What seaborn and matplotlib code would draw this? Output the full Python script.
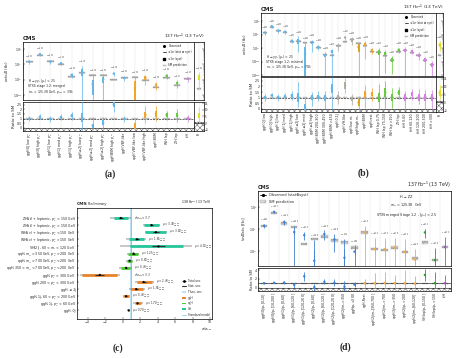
import numpy as np
import pandas as pd
import matplotlib
matplotlib.use("Agg")
import matplotlib.pyplot as plt
import seaborn as sns
from matplotlib.patches import Rectangle, Patch
from matplotlib.lines import Line2D

# ---------------- data : panel (a) ----------------
a_labels = ["ggH 0J low $p_T^H$", "ggH 0J high $p_T^H$", "ggH 1J low $p_T^H$", "ggH 1J med $p_T^H$",
            "ggH 1J high $p_T^H$", "ggH ≥2J low $p_T^H$", "ggH ≥2J med $p_T^H$", "ggH ≥2J high $p_T^H$",
            "ggH BSM high $p_T^H$", "ggH VBF-like", "qqH VBF-like low", "qqH VBF-like high",
            "qqH BSM", "WH lep", "ZH lep", "ttH", "tH"]
a_sm = [15, 39, 16, 10.4, 1.6, 2.9, 2.0, 1.9, 1.0, 1.35, 1.4, 0.93, 0.31, 1.3, 0.44, 1.15, 0.25]
a_mu = [1.0, 1.2, 0.95, 1.15, 1.3, 1.1, 0.25, 0.55, 2.5, 0.95, 0.2, 1.4, 1.5, 1.4, 1.35, 1.0, 6.0]
a_up = [0.25, 0.25, 0.3, 0.3, 0.45, 1.8, 0.9, 0.6, 0.8, 0.35, 0.9, 0.9, 0.8, 0.45, 0.7, 0.35, 6.0]
a_dn = [0.25, 0.25, 0.3, 0.3, 0.45, 1.8, 0.5, 0.55, 0.8, 0.35, 0.45, 0.9, 0.8, 0.6, 0.7, 0.35, 5.0]
a_sy = [0.08, 0.08, 0.1, 0.1, 0.15, 0.5, 0.2, 0.25, 0.3, 0.1, 0.35, 0.35, 0.3, 0.2, 0.2, 0.12, 2.0]
a_proc = ["ggH"] * 10 + ["qqH"] * 3 + ["VH"] * 2 + ["ttH", "tH"]

# ---------------- data : panel (b) ----------------
b_labels = ["ggH 0J low", "ggH 0J high", "ggH 1J low", "ggH 1J med", "ggH 1J high",
            "ggH ≥2J low", "ggH ≥2J med", "ggH ≥2J high", "ggH BSM 200-300", "ggH BSM 300-450",
            "ggH BSM >450", "qqH 0-1J", "qqH VH-like", "qqH low $m_{jj}$", "qqH high $m_{jj}$",
            "qqH BSM", "qqH rest", "WH lep 0-75", "WH lep 75-150", "WH lep >150", "ZH lep",
            "ttH 0-60", "ttH 60-120", "ttH 120-200", "ttH 200-300", "ttH >300", "tH"]
b_sm = [14, 35, 20, 14.5, 2.9, 3.2, 2.5, 2.7, 1.1, 0.32, 0.3, 1.5, 2.9, 4.7, 2.2, 1.5, 0.55,
        0.5, 0.28, 0.13, 0.52, 0.7, 0.46, 0.3, 0.13, 0.06, 0.3]
b_mu = [1.0, 1.2, 1.0, 1.1, 1.2, 1.0, 0.15, 1.0, 1.1, 0.95, 1.85, 1.0, 2.1, 0.85, 0.55, 1.3, 1.3,
        1.0, 1.45, 1.0, 1.45, 1.0, 1.3, 1.0, 1.0, 1.0, 6.0]
b_up = [0.3, 0.25, 0.3, 0.3, 0.4, 1.4, 0.8, 0.5, 0.45, 0.6, 1.0, 0.6, 0.7, 0.5, 0.6, 0.8, 0.6,
        1.2, 1.0, 0.9, 0.5, 0.6, 0.5, 0.8, 0.7, 0.7, 5.0]
b_dn = [0.3, 0.25, 0.3, 0.3, 0.4, 0.85, 0.6, 0.8, 0.45, 1.0, 1.9, 0.6, 0.7, 0.5, 0.9, 1.2, 0.6,
        1.1, 1.4, 0.9, 0.6, 1.0, 0.5, 0.6, 1.0, 1.0, 4.0]
b_sy = [0.1, 0.08, 0.1, 0.1, 0.15, 0.4, 0.3, 0.2, 0.15, 0.25, 0.4, 0.2, 0.3, 0.2, 0.3, 0.3, 0.2,
        0.4, 0.4, 0.3, 0.2, 0.3, 0.2, 0.3, 0.3, 0.3, 2.0]
b_proc = ["ggH"] * 11 + ["qqHg"] * 3 + ["qqHy"] + ["qqH"] * 2 + ["VH"] * 4 + ["ttH"] * 5 + ["tH"]

# ---------------- data : panel (c) ----------------
c_labels = [r"ZH($\ell\ell$) + leptonic, $p_T^V$ < 150 GeV", r"ZH($\ell\ell$) + leptonic, $p_T^V$ > 150 GeV",
            r"WH($\ell\nu$) + leptonic, $p_T^V$ < 150 GeV", r"WH($\ell\nu$) + leptonic, $p_T^V$ > 150 GeV",
            r"VH(2j), 60 < $m_{jj}$ < 120 GeV", r"qqH, $m_{jj}$ > 350 GeV, $p_T^H$ > 200 GeV",
            r"qqH, $m_{jj}$ > 700 GeV, $p_T^H$ < 200 GeV", r"qqH, 350 < $m_{jj}$ < 700 GeV, $p_T^H$ < 200 GeV",
            r"ggH, $p_T^H$ > 300 GeV", r"ggH, 200 < $p_T^H$ < 300 GeV", r"ggH, ≥ 2j",
            r"ggH, 1j, 60 < $p_T^H$ < 200 GeV", r"ggH, 1j, $p_T^H$ < 60 GeV", r"ggH, 0j"]
c_mu = [-0.2, 3.3, 3.8, 1.65, 4.1, 1.25, 0.8, 0.4, -2.6, 2.4, 1.55, 0.4, 1.7, 0.7]
c_lo = [1.2, 1.0, 1.3, 1.3, 4.4, 0.7, 0.4, 0.8, 2.3, 1.0, 0.8, 0.4, 0.5, 0.15]
c_hi = [1.2, 1.0, 1.3, 1.0, 3.8, 0.6, 0.4, 0.7, 2.3, 1.2, 1.0, 0.4, 0.6, 0.15]
c_slo = [0.8, 0.9, 1.2, 0.9, 3.2, 0.6, 0.3, 0.6, 2.0, 0.8, 0.6, 0.3, 0.3, 0.05]
c_shi = [0.8, 0.9, 1.2, 0.8, 2.8, 0.5, 0.3, 0.5, 2.0, 1.0, 0.8, 0.3, 0.4, 0.05]
c_limit = [3.7, None, None, None, None, None, None, None, 3.3, None, None, None, None, None]
c_proc = ["VH"] * 5 + ["qqH"] * 3 + ["ggH"] * 6

# ---------------- data : panel (d) ----------------
d_labels = ["ggH-0j/$p_T$[0,10]", "ggH-0j/$p_T$[10,200]", "ggH-1j/$p_T$[0,60]", "ggH-1j/$p_T$[60,120]",
            "ggH-1j/$p_T$[120,200]", "ggH-2j/$p_T$[0,60]", "ggH-2j/$p_T$[60,120]", "ggH-2j/$p_T$[120,200]",
            "ggH-2j/$m_{jj}$>350", "ggH/$p_T$>200", "qqH-Rest", "qqH-2j/$m_{jj}$[350,700]",
            "qqH-2j/$m_{jj}$>700", "qqH-3j/$m_{jj}$>350", "qqH-2j/$p_T$>200", "qqH-2j/$m_{jj}$[60,120]",
            "VH-lep/$p_T$[0,150]", "VH-lep/$p_T$>150", "ttH"]
d_sm = [14, 55, 18, 12, 2.0, 3.5, 4.5, 3.0, 2.4, 1.4, 7.0, 1.2, 1.1, 1.4, 0.9, 0.45, 2.4, 0.37, 1.5]
d_mu = [1.0, 1.1, 1.15, 0.6, 2.6, 0.1, 1.3, 1.1, 0.2, 0.65, 1.0, 1.0, 1.05, 1.0, 1.0, 0.9, 2.9, 1.0, 1.0]
d_up = [0.2, 0.15, 0.35, 0.5, 1.0, 0.8, 0.6, 0.8, 1.3, 0.6, 1.0, 2.3, 2.5, 1.8, 3.0, 1.8, 1.4, 2.5, 2.0]
d_dn = [0.2, 0.15, 0.35, 0.6, 1.0, 0.8, 0.6, 0.8, 1.3, 0.6, 1.0, 1.0, 1.05, 1.0, 1.0, 0.9, 1.3, 1.0, 1.0]
d_sy = [0.05, 0.05, 0.1, 0.15, 0.3, 0.2, 0.2, 0.2, 0.3, 0.2, 0.4, 0.4, 0.4, 0.3, 0.4, 0.3, 0.4, 0.3, 0.3]
d_proc = ["ggH"] * 10 + ["qqH"] * 6 + ["VH"] * 2 + ["ttH"]

# ---------------- colours ----------------
col_ab = {"ggH": "#62b6e8", "qqHg": "#b0aaa0", "qqHy": "#d9a61c", "qqH": "#f2a428",
          "VH": "#62cc3a", "ttH": "#d77ee6", "tH": "#e2de26"}
col_c = {"VH": "#25c79b", "qqH": "#45cf2e", "ggH": "#e8842c"}
col_d = {"ggH": "#3f82d2", "qqH": "#f2a93b", "VH": "#2ca02c", "ttH": "#a056c4"}

sns.set_style("ticks")
plt.rcParams.update({
    "font.family": ["DejaVu Sans"], "hatch.linewidth": 0.3, "axes.linewidth": 0.5,
    "xtick.direction": "in", "ytick.direction": "in",
    "xtick.major.width": 0.3, "ytick.major.width": 0.3, "xtick.minor.width": 0.2, "ytick.minor.width": 0.2,
    "xtick.major.size": 1.2, "ytick.major.size": 1.4, "xtick.minor.size": 0.7, "ytick.minor.size": 0.8,
    "xtick.major.pad": 0.8, "ytick.major.pad": 0.8, "axes.edgecolor": "black",
})

W, H = 474, 358
fig = plt.figure(figsize=(W / 100, H / 100), dpi=100)


def pax(x0, y0, x1, y1):
    return fig.add_axes([x0 / W, 1 - y1 / H, (x1 - x0) / W, (y1 - y0) / H])


def stxs(axm, axr, labels, sm, mu, up, dn, sy, colors, smu, ylm, ylr, vgrid="center",
         ann_fs=1.4, lw_thin=0.5, lw_thick=1.4, lab_fs=2.1, dashed=True):
    n = len(labels)
    x = np.arange(n)
    sm = np.asarray(sm, float); mu = np.asarray(mu, float)
    up = np.asarray(up, float); dn = np.asarray(dn, float); sy = np.asarray(sy, float)
    obs = mu * sm
    gx = x if vgrid == "center" else x[:-1] + 0.5
    for g in gx:
        axm.axvline(g, color="#e0e0e0", lw=0.3, zorder=0)
        axr.axvline(g, color="#e0e0e0", lw=0.3, zorder=0)
    for i in range(n):
        c = colors[i]
        axm.add_patch(Rectangle((i - 0.32, sm[i] * (1 - smu)), 0.64, sm[i] * 2 * smu, fc="#dadada",
                                ec="#9a9a9a", lw=0.25, hatch="////", zorder=1))
        axm.hlines(sm[i], i - 0.32, i + 0.32, color="#555555", lw=0.35, zorder=2)
        axr.add_patch(Rectangle((i - 0.32, 1 - smu), 0.64, 2 * smu, fc="#dadada",
                                ec="#9a9a9a", lw=0.25, hatch="////", zorder=1))
        lo = (mu[i] - dn[i]) * sm[i]
        lo = lo if lo > ylm[0] else ylm[0]
        axm.vlines(i, lo, (mu[i] + up[i]) * sm[i], color=c, lw=lw_thin, zorder=3)
        slo = (mu[i] - sy[i]) * sm[i]
        slo = slo if slo > ylm[0] else ylm[0]
        axm.vlines(i, slo, (mu[i] + sy[i]) * sm[i], color=c, lw=lw_thick, zorder=3)
        axr.vlines(i, mu[i] - dn[i], mu[i] + up[i], color=c, lw=lw_thin, zorder=3)
        axr.vlines(i, mu[i] - sy[i], mu[i] + sy[i], color=c, lw=lw_thick, zorder=3)
        axm.text(i, (mu[i] + up[i]) * sm[i] * 1.1,
                 f"{mu[i]:.1f}$^{{+{up[i]:.1f}}}_{{-{dn[i]:.1f}}}$",
                 fontsize=ann_fs, ha="center", va="bottom", color="#333333", zorder=5)
    df = pd.DataFrame({"x": x, "obs": obs, "mu": mu, "cat": labels})
    pal = dict(zip(labels, colors))
    sns.scatterplot(data=df, x="x", y="obs", hue="cat", palette=pal, ax=axm, s=3,
                    legend=False, edgecolor="none", zorder=4)
    sns.scatterplot(data=df, x="x", y="mu", hue="cat", palette=pal, ax=axr, s=3,
                    legend=False, edgecolor="none", zorder=4)
    axm.set_yscale("log")
    axm.set_ylim(*ylm)
    axm.set_xlim(-0.6, n - 0.4)
    axr.set_xlim(-0.6, n - 0.4)
    axr.set_ylim(*ylr)
    axr.axhspan(ylr[0], 0, facecolor="white", edgecolor="#444444", hatch="xxxxxx", lw=0, zorder=0.5)
    axr.axhline(0, color="k", lw=0.4)
    axr.axhline(1, color="k", lw=0.4, ls="--" if dashed else "-", zorder=2)
    axm.set_xticks(x)
    axm.set_xticklabels([])
    axr.set_xticks(x)
    axr.set_xticklabels(labels, rotation=90, fontsize=lab_fs)
    for a in (axm, axr):
        a.set_xlabel("")
        a.set_ylabel("")
        a.tick_params(axis="x", length=0)
        a.tick_params(labelsize=2.3)


def header(x0, x1, y, lumi, fs_cms=4.0, fs_l=3.2, prelim=False):
    fig.text(x0 / W, 1 - y / H, "CMS", fontsize=fs_cms, fontweight="bold", va="bottom", ha="left")
    if prelim:
        fig.text((x0 + 11) / W, 1 - y / H, "Preliminary", fontsize=fs_cms * 0.75, style="italic",
                 va="bottom", ha="left")
    fig.text(x1 / W, 1 - y / H, lumi, fontsize=fs_l, va="bottom", ha="right")


leg_handles = [Line2D([], [], marker="o", color="k", ls="none", ms=1.2),
               Line2D([], [], color="k", lw=0.5),
               Line2D([], [], color="k", lw=0, marker="s", ms=2),
               Patch(fc="#dadada", ec="#9a9a9a", hatch="////", lw=0.25)]
leg_labels = ["Observed", "±1σ (stat ⊕ syst)", "±1σ (syst)", "SM prediction"]


def ab_panel(labels, sm, mu, up, dn, sy, proc, box, sep, rbox, ylm, ylr, rticks, side_ylr,
             text_lines, text_pos, step, ann_fs):
    x0, y0, x1, y1 = box
    ry0, ry1 = rbox
    cols = [col_ab[p] for p in proc]
    axm = pax(x0, y0, sep, y1)
    axr = pax(x0, ry0, sep, ry1)
    axms = pax(sep, y0, x1, y1)
    axrs = pax(sep, ry0, x1, ry1)
    stxs(axm, axr, labels[:-1], sm[:-1], mu[:-1], up[:-1], dn[:-1], sy[:-1], cols[:-1], 0.08, ylm, ylr,
         ann_fs=ann_fs)
    stxs(axms, axrs, labels[-1:], sm[-1:], mu[-1:], up[-1:], dn[-1:], sy[-1:], cols[-1:], 0.08, ylm, side_ylr,
         ann_fs=ann_fs)
    axms.set_xlim(-0.9, 0.9); axrs.set_xlim(-0.9, 0.9)
    for a in (axms, axrs):
        a.yaxis.tick_right()
    axms.set_yticklabels([])
    axrs.tick_params(labelsize=2.0)
    axr.set_yticks(rticks)
    axr.set_yticklabels([f"{t:g}" for t in rticks])
    axm.set_ylabel(r"$\sigma_{\mathrm{obs}}\,\mathcal{B}$ (fb)", fontsize=3.0, labelpad=0.8)
    axr.set_ylabel("Ratio to SM", fontsize=3.0, labelpad=0.8)
    axm.legend(leg_handles, leg_labels, loc="upper right", fontsize=2.0, frameon=False,
               handlelength=1.3, borderaxespad=0.3, labelspacing=0.9)
    for k, t in enumerate(text_lines):
        fig.text(text_pos[0] / W, 1 - (text_pos[1] + k * step) / H, t, fontsize=2.2, va="center", ha="left")
    return axm, axr


# ---------------- panel (a) ----------------
ab_panel(a_labels, a_sm, a_mu, a_up, a_dn, a_sy, a_proc, (23, 42, 204, 100), 194, (102, 131),
         (0.047, 290), (-0.32, 2.77), [0, 0.5, 1, 1.5, 2, 2.5], (-6, 16),
         [r"H → γγ, $|y_H|$ < 2.5", "STXS stage 1.2: merged", r"$m_H$ = 125.38 GeV, $p_{SM}$ = 31%"],
         (28, 81), 5.5, 1.4)
header(23, 204, 41, r"137 fb$^{-1}$ (13 TeV)")

# ---------------- panel (b) ----------------
ab_panel(b_labels, b_sm, b_mu, b_up, b_dn, b_sy, b_proc, (261, 13, 443, 76), 436, (77, 112),
         (0.0085, 400), (-0.3, 2.85), [0, 0.5, 1, 1.5, 2, 2.5], (-6, 16),
         [r"H → γγ, $|y_H|$ < 2.5", "STXS stage 1.2: minimal", r"$m_H$ = 125.38 GeV, $p_{SM}$ = 70%"],
         (266, 57), 5.2, 1.1)
header(261, 443, 12, r"137 fb$^{-1}$ (13 TeV)")

# ---------------- panel (c) ----------------
axc = pax(77, 208, 212, 319)
rows = np.arange(len(c_labels))
cdf = pd.DataFrame({"label": c_labels, "mu": c_mu, "row": rows, "proc": c_proc})
axc.axvspan(0.9, 1.1, color="#bfe3f6", zorder=0, lw=0)
axc.axvline(1, color="#6cc1ec", lw=0.5, zorder=1)
for i in range(len(c_labels)):
    m = c_mu[i]
    axc.hlines(i, m - c_lo[i], m + c_hi[i], color="#222222", lw=0.35, zorder=2)
    axc.hlines(i, m - c_slo[i], m + c_shi[i], color=col_c[c_proc[i]], lw=2.0, zorder=3)
    axc.hlines(i, m - c_slo[i] * 0.25, m + c_shi[i] * 0.25, color="#333333", lw=0.8, zorder=3.5)
    xt = m + c_hi[i] + 0.25
    if c_limit[i] is not None:
        s = rf"$\sigma/\sigma_{{SM}}$ < {c_limit[i]:.1f}"
        xt = 1.3
    else:
        s = rf"$\mu$ = {m:.2f}$^{{+{c_hi[i]:.2f}}}_{{-{c_lo[i]:.2f}}}$"
    axc.text(xt, i, s, fontsize=1.9, va="center", ha="left", zorder=6)
sns.scatterplot(data=cdf, x="mu", y="row", color="k", s=2.5, ax=axc, zorder=5, edgecolor="none", legend=False)
axc.set_ylim(14.2, -1.4)
axc.set_xlim(-5.2, 10.2)
axc.set_yticks(rows)
axc.set_yticklabels(c_labels, fontsize=2.2)
axc.set_xticks([-4, -2, 0, 2, 4, 6, 8, 10])
axc.tick_params(labelsize=2.3)
axc.set_ylabel("")
axc.set_xlabel(r"$\sigma/\sigma_{SM}$", fontsize=2.5, loc="right", labelpad=1)
c_handles = [Line2D([], [], color="k", lw=0.4, marker="o", ms=1),
             Line2D([], [], color="#333333", lw=0.8),
             Patch(fc="#bfe3f6", lw=0),
             Patch(fc=col_c["ggH"], lw=0), Patch(fc=col_c["qqH"], lw=0), Patch(fc=col_c["VH"], lw=0),
             Line2D([], [], color="#6cc1ec", lw=0.5)]
axc.legend(c_handles, ["Total unc.", "Stat. unc.", "Theo. unc.", "ggH", "qqH", "VH", "Standard model"],
           loc="lower right", fontsize=2.0, frameon=False, handlelength=1.2, labelspacing=0.6,
           borderaxespad=0.4)
header(77, 212, 206, r"138 fb$^{-1}$ (13 TeV)", fs_cms=3.2, fs_l=2.3, prelim=True)

# ---------------- panel (d) ----------------
axdm = pax(258, 191, 451, 266)
axdr = pax(258, 268, 451, 291)
stxs(axdm, axdr, d_labels, d_sm, d_mu, d_up, d_dn, d_sy, [col_d[p] for p in d_proc], 0.12,
     (0.2, 550), (-0.8, 4.5), vgrid="between", ann_fs=1.5, lw_thin=0.6, lw_thick=0.6, lab_fs=2.2, dashed=False)
axdr.set_yticks([0, 2, 4])
axdm.set_ylabel(r"$(\sigma\mathcal{B})_{\mathrm{obs}}$ [fb]", fontsize=3.0, labelpad=0.8)
axdr.set_ylabel("Ratio to SM", fontsize=2.6, labelpad=0.8)
d_handles = [Line2D([], [], marker="o", color="k", lw=0.6, ms=1.3),
             Patch(fc="#dadada", ec="#9a9a9a", hatch="////", lw=0.25)]
axdm.legend(d_handles, ["Observed (stat⊕syst)", "SM prediction"], loc="upper left", fontsize=2.6,
            frameon=False, handlelength=1.5, borderaxespad=0.25, labelspacing=0.7)
axdm.text(0.77, 0.95, "H → ZZ\n$m_H$ = 125.38  GeV\nSTXS merged Stage 1.2 - $|y_H|$ < 2.5",
          transform=axdm.transAxes, ha="center", va="top", fontsize=2.4, linespacing=1.5)
header(258, 451, 190, r"137 fb$^{-1}$ (13 TeV)", fs_cms=3.6, fs_l=3.4)

# ---------------- panel letters ----------------
for lab, (px, py) in {"(a)": (110, 174), "(b)": (363, 173), "(c)": (118, 348), "(d)": (345, 347)}.items():
    fig.text(px / W, 1 - py / H, lab, fontsize=7, fontweight="bold", family=["Liberation Serif", "DejaVu Serif"],
             ha="center", va="center")

fig.savefig("out.png", dpi=100)
